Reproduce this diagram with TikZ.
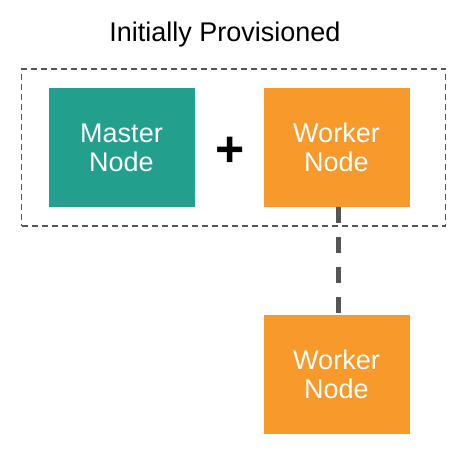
\documentclass[tikz,border=0pt]{standalone}
\usepackage{fontspec}
\setmainfont{Liberation Sans}
\definecolor{teal1}{HTML}{239F8E}
\definecolor{orange1}{HTML}{F7992B}
\definecolor{dash1}{HTML}{555555}
\begin{document}
\begin{tikzpicture}[x=1pt,y=-1pt,
  box/.style={minimum width=146pt,minimum height=119pt,inner sep=0pt,text=white,align=center,
    font=\fontsize{27}{29}\selectfont},
  master/.style={box,fill=teal1},
  worker/.style={box,fill=orange1}]
\useasboundingbox (0,0) rectangle (474,457);
\node[font=\fontsize{27}{30}\selectfont] (title) at (225,35) {Initially Provisioned};
\node[draw=dash1,line width=1.5pt,dash pattern=on 6pt off 4pt,minimum width=424pt,minimum height=157pt,inner sep=0pt] (group) at (233.5,147.5) {};
\node[master] (m) at (121.5,147.5) {Master\\Node};
\node[worker] (w1) at (336.5,147.5) {Worker\\Node};
\node[font=\fontsize{50}{50}\selectfont\bfseries] (plus) at (230,152) {+};
\node[worker] (w2) at (336.5,374) {Worker\\Node};
\draw[dash1,line width=5pt,dash pattern=on 16pt off 14pt] (w1.south -| 338,0) -- (w2.north -| 338,0);
\end{tikzpicture}
\end{document}
